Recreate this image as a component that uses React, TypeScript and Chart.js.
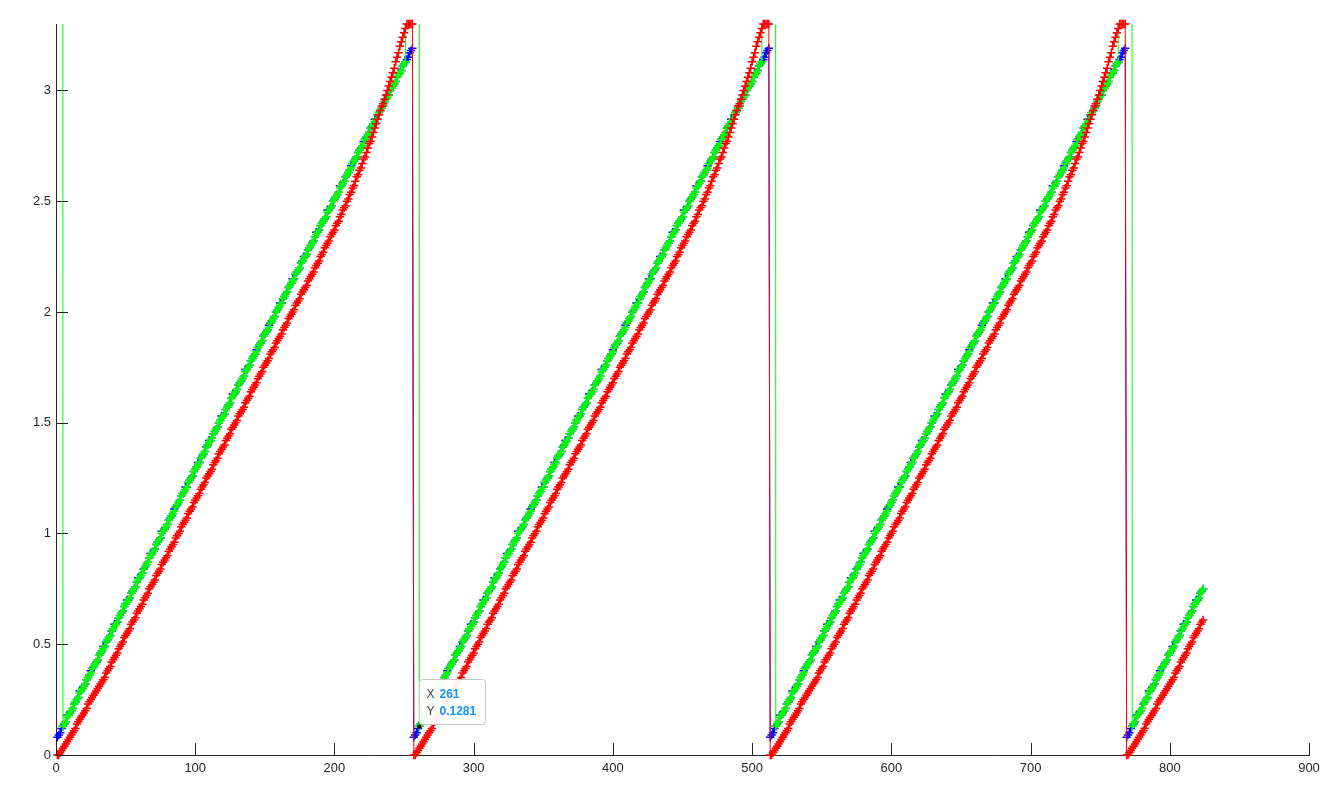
import React, { useEffect, useRef } from "react";
import { Chart, registerables } from "chart.js";

Chart.register(...registerables);

// sample index of the first value of every series
const firstSample = 1;
const xTickValues = [0, 100, 200, 300, 400, 500, 600, 700, 800, 900];
const yTickValues = [0, 0.5, 1, 1.5, 2, 2.5, 3];
const datatipX = 261;
const datatipY = 0.1281;

// all series values are in hundredths of the y unit (4000 = far above the axes)
const redCycle1 = [0,0,1,2,3,4,5,6,7,8,9,10,11,12,14,15,16,17,18,19,20,21,23,24,25,26,27,28,29,30,31,32,33,34,35,37,38,39,40,42,43,44,45,46,48,49,50,51,53,54,55,56,57,59,60,61,62,64,65,66,67,68,70,71,72,73,75,76,77,78,79,81,82,83,84,86,87,88,89,90,92,93,94,95,96,98,99,100,101,103,104,105,106,107,109,110,111,112,114,115,116,117,118,120,121,122,123,125,126,127,128,129,131,132,133,134,136,137,138,139,140,142,143,144,145,147,148,149,150,151,153,154,155,156,157,159,160,161,162,164,165,166,167,168,170,171,172,173,175,176,177,178,179,181,182,183,184,186,187,188,189,190,192,193,194,195,197,198,199,200,201,203,204,205,206,208,209,210,211,212,214,215,216,217,218,220,221,222,223,225,226,227,229,230,231,232,234,235,236,237,239,240,241,243,244,246,247,248,250,251,253,254,256,257,259,261,262,264,265,267,269,270,272,274,276,277,279,281,283,285,287,289,291,293,294,296,298,300,302,304,306,308,310,313,315,317,320,322,324,326,328,330,330,330,330,330];
const redCycle2 = [0,0,1,2,3,4,5,6,7,8,9,10,11,12,14,15,16,17,18,19,20,21,23,24,25,26,27,28,29,30,31,32,33,34,35,37,38,39,40,42,43,44,45,46,48,49,50,51,53,54,55,56,57,59,60,61,62,64,65,66,67,68,70,71,72,73,75,76,77,78,79,81,82,83,84,86,87,88,89,90,92,93,94,95,96,98,99,100,101,103,104,105,106,107,109,110,111,112,114,115,116,117,118,120,121,122,123,125,126,127,128,129,131,132,133,134,136,137,138,139,140,142,143,144,145,147,148,149,150,151,153,154,155,156,157,159,160,161,162,164,165,166,167,168,170,171,172,173,175,176,177,178,179,181,182,183,184,186,187,188,189,190,192,193,194,195,197,198,199,200,201,203,204,205,206,208,209,210,211,212,214,215,216,217,218,220,221,222,223,225,226,227,229,230,231,232,234,235,236,237,239,240,241,243,244,246,247,248,250,251,253,254,256,257,259,261,262,264,265,267,269,270,272,274,276,277,279,281,283,285,287,289,291,293,294,296,298,300,302,304,306,308,310,313,315,317,320,322,324,326,328,330,330,330,330,330];
const redCycle3 = [0,0,1,2,3,4,5,6,7,8,9,10,11,12,14,15,16,17,18,19,20,21,23,24,25,26,27,28,29,30,31,32,33,34,35,37,38,39,40,42,43,44,45,46,48,49,50,51,53,54,55,56,57,59,60,61,62,64,65,66,67,68,70,71,72,73,75,76,77,78,79,81,82,83,84,86,87,88,89,90,92,93,94,95,96,98,99,100,101,103,104,105,106,107,109,110,111,112,114,115,116,117,118,120,121,122,123,125,126,127,128,129,131,132,133,134,136,137,138,139,140,142,143,144,145,147,148,149,150,151,153,154,155,156,157,159,160,161,162,164,165,166,167,168,170,171,172,173,175,176,177,178,179,181,182,183,184,186,187,188,189,190,192,193,194,195,197,198,199,200,201,203,204,205,206,208,209,210,211,212,214,215,216,217,218,220,221,222,223,225,226,227,229,230,231,232,234,235,236,237,239,240,241,243,244,246,247,248,250,251,253,254,256,257,259,261,262,264,265,267,269,270,272,274,276,277,279,281,283,285,287,289,291,293,294,296,298,300,302,304,306,308,310,313,315,317,320,322,324,326,328,330,330,330,330,330];
const redCycle4 = [0,0,1,2,3,4,5,6,7,8,9,10,11,12,14,15,16,17,18,19,20,21,23,24,25,26,27,28,29,30,31,32,33,34,35,37,38,39,40,42,43,44,45,46,48,49,50,51,53,54,55,56,57,59,60,61];

const greenCycle1 = [4000,4000,4000,4000,13,14,15,17,18,19,20,21,23,24,25,26,28,29,30,31,32,34,35,36,37,39,40,41,42,43,45,46,47,48,49,51,52,53,54,56,57,58,59,60,62,63,64,65,67,68,69,70,71,73,74,75,76,78,79,80,81,82,84,85,86,87,89,90,91,92,93,95,96,97,98,100,101,102,103,104,106,107,108,109,110,112,113,114,115,117,118,119,120,121,123,124,125,126,128,129,130,131,132,134,135,136,137,139,140,141,142,143,145,146,147,148,150,151,152,153,154,156,157,158,159,161,162,163,164,165,167,168,169,170,171,173,174,175,176,178,179,180,181,182,184,185,186,187,189,190,191,192,193,195,196,197,198,200,201,202,203,204,206,207,208,209,211,212,213,214,215,217,218,219,220,222,223,224,225,226,228,229,230,231,232,234,235,236,237,239,240,241,242,243,245,246,247,248,250,251,252,253,254,256,257,258,259,261,262,263,264,265,267,268,269,270,272,273,274,275,276,278,279,280,281,283,284,285,286,287,289,290,291,292,293,295,296,297,298,300,301,302,303,304,306,307,308,309,311,312,313,4000,4000,4000,4000,4000];
const greenCycle2 = [4000,4000,4000,4000,13,14,15,17,18,19,20,21,23,24,25,26,28,29,30,31,32,34,35,36,37,39,40,41,42,43,45,46,47,48,49,51,52,53,54,56,57,58,59,60,62,63,64,65,67,68,69,70,71,73,74,75,76,78,79,80,81,82,84,85,86,87,89,90,91,92,93,95,96,97,98,100,101,102,103,104,106,107,108,109,110,112,113,114,115,117,118,119,120,121,123,124,125,126,128,129,130,131,132,134,135,136,137,139,140,141,142,143,145,146,147,148,150,151,152,153,154,156,157,158,159,161,162,163,164,165,167,168,169,170,171,173,174,175,176,178,179,180,181,182,184,185,186,187,189,190,191,192,193,195,196,197,198,200,201,202,203,204,206,207,208,209,211,212,213,214,215,217,218,219,220,222,223,224,225,226,228,229,230,231,232,234,235,236,237,239,240,241,242,243,245,246,247,248,250,251,252,253,254,256,257,258,259,261,262,263,264,265,267,268,269,270,272,273,274,275,276,278,279,280,281,283,284,285,286,287,289,290,291,292,293,295,296,297,298,300,301,302,303,304,306,307,308,309,311,312,313,4000,4000,4000,4000,4000];
const greenCycle3 = [4000,4000,4000,4000,13,14,15,17,18,19,20,21,23,24,25,26,28,29,30,31,32,34,35,36,37,39,40,41,42,43,45,46,47,48,49,51,52,53,54,56,57,58,59,60,62,63,64,65,67,68,69,70,71,73,74,75,76,78,79,80,81,82,84,85,86,87,89,90,91,92,93,95,96,97,98,100,101,102,103,104,106,107,108,109,110,112,113,114,115,117,118,119,120,121,123,124,125,126,128,129,130,131,132,134,135,136,137,139,140,141,142,143,145,146,147,148,150,151,152,153,154,156,157,158,159,161,162,163,164,165,167,168,169,170,171,173,174,175,176,178,179,180,181,182,184,185,186,187,189,190,191,192,193,195,196,197,198,200,201,202,203,204,206,207,208,209,211,212,213,214,215,217,218,219,220,222,223,224,225,226,228,229,230,231,232,234,235,236,237,239,240,241,242,243,245,246,247,248,250,251,252,253,254,256,257,258,259,261,262,263,264,265,267,268,269,270,272,273,274,275,276,278,279,280,281,283,284,285,286,287,289,290,291,292,293,295,296,297,298,300,301,302,303,304,306,307,308,309,311,312,313,4000,4000,4000,4000,4000];
const greenCycle4 = [4000,4000,4000,4000,13,14,15,17,18,19,20,21,23,24,25,26,28,29,30,31,32,34,35,36,37,39,40,41,42,43,45,46,47,48,49,51,52,53,54,56,57,58,59,60,62,63,64,65,67,68,69,70,71,73,74,75];

const blueCycle1 = [8,9,10,12,13,14,15,18,18,19,20,21,23,24,25,26,29,29,30,31,32,34,35,36,38,39,40,41,42,43,45,46,47,49,49,51,52,53,54,56,57,59,59,60,62,63,64,65,67,68,70,70,71,73,74,75,76,78,80,80,81,82,84,85,86,87,89,91,91,92,93,95,96,97,98,101,101,102,103,104,106,107,108,109,111,112,113,114,115,117,118,119,121,121,123,124,125,126,128,129,130,132,132,134,135,136,137,139,140,142,142,143,145,146,147,148,150,151,153,153,154,156,157,158,159,161,163,163,164,165,167,168,169,170,171,174,174,175,176,178,179,180,181,183,184,185,186,187,189,190,191,192,194,195,196,197,198,200,201,202,204,204,206,207,208,209,211,212,213,215,215,217,218,219,220,222,223,225,225,226,228,229,230,231,232,234,236,236,237,239,240,241,242,243,246,246,247,248,250,251,252,253,254,257,257,258,259,261,262,263,264,266,267,268,269,270,272,273,274,275,277,278,279,280,281,283,284,285,287,287,289,290,291,292,293,295,296,298,298,300,301,302,303,304,306,308,308,309,311,312,313,314,315,317,318,319];
const blueCycle2 = [8,9,10,12,13,14,15,18,18,19,20,21,23,24,25,26,29,29,30,31,32,34,35,36,38,39,40,41,42,43,45,46,47,49,49,51,52,53,54,56,57,59,59,60,62,63,64,65,67,68,70,70,71,73,74,75,76,78,80,80,81,82,84,85,86,87,89,91,91,92,93,95,96,97,98,101,101,102,103,104,106,107,108,109,111,112,113,114,115,117,118,119,121,121,123,124,125,126,128,129,130,132,132,134,135,136,137,139,140,142,142,143,145,146,147,148,150,151,153,153,154,156,157,158,159,161,163,163,164,165,167,168,169,170,171,174,174,175,176,178,179,180,181,183,184,185,186,187,189,190,191,192,194,195,196,197,198,200,201,202,204,204,206,207,208,209,211,212,213,215,215,217,218,219,220,222,223,225,225,226,228,229,230,231,232,234,236,236,237,239,240,241,242,243,246,246,247,248,250,251,252,253,254,257,257,258,259,261,262,263,264,266,267,268,269,270,272,273,274,275,277,278,279,280,281,283,284,285,287,287,289,290,291,292,293,295,296,298,298,300,301,302,303,304,306,308,308,309,311,312,313,314,315,317,318,319];
const blueCycle3 = [8,9,10,12,13,14,15,18,18,19,20,21,23,24,25,26,29,29,30,31,32,34,35,36,38,39,40,41,42,43,45,46,47,49,49,51,52,53,54,56,57,59,59,60,62,63,64,65,67,68,70,70,71,73,74,75,76,78,80,80,81,82,84,85,86,87,89,91,91,92,93,95,96,97,98,101,101,102,103,104,106,107,108,109,111,112,113,114,115,117,118,119,121,121,123,124,125,126,128,129,130,132,132,134,135,136,137,139,140,142,142,143,145,146,147,148,150,151,153,153,154,156,157,158,159,161,163,163,164,165,167,168,169,170,171,174,174,175,176,178,179,180,181,183,184,185,186,187,189,190,191,192,194,195,196,197,198,200,201,202,204,204,206,207,208,209,211,212,213,215,215,217,218,219,220,222,223,225,225,226,228,229,230,231,232,234,236,236,237,239,240,241,242,243,246,246,247,248,250,251,252,253,254,257,257,258,259,261,262,263,264,266,267,268,269,270,272,273,274,275,277,278,279,280,281,283,284,285,287,287,289,290,291,292,293,295,296,298,298,300,301,302,303,304,306,308,308,309,311,312,313,314,315,317,318,319];
const blueCycle4 = [8,9,10,12,13,14,15,18,18,19,20,21,23,24,25,26,29,29,30,31,32,34,35,36,38,39,40,41,42,43,45,46,47,49,49,51,52,53,54,56,57,59,59,60,62,63,64,65,67,68,70,70,71,73,74,75];

const redValues = [...redCycle1, ...redCycle2, ...redCycle3, ...redCycle4];
const greenValues = [...greenCycle1, ...greenCycle2, ...greenCycle3, ...greenCycle4];
const blueValues = [...blueCycle1, ...blueCycle2, ...blueCycle3, ...blueCycle4];

const AXIS_COLOR = "#262626";
const FONT = "'Liberation Sans', Arial, Helvetica, sans-serif";

function toPoints(values: number[]) {
  return values.map((v, i) => ({ x: firstSample + i, y: v / 100 }));
}

const inwardTicks = {
  id: "inwardTicks",
  afterDatasetsDraw(chart: any) {
    const { ctx, chartArea, scales } = chart;
    ctx.save();
    ctx.strokeStyle = AXIS_COLOR;
    ctx.lineWidth = 1;
    ctx.beginPath();
    for (const t of xTickValues) {
      const px = Math.round(scales.x.getPixelForValue(t)) + 0.5;
      ctx.moveTo(px, chartArea.bottom);
      ctx.lineTo(px, chartArea.bottom - 12);
    }
    for (const t of yTickValues) {
      const py = Math.round(scales.y.getPixelForValue(t)) + 0.5;
      ctx.moveTo(chartArea.left, py);
      ctx.lineTo(chartArea.left + 12, py);
    }
    ctx.stroke();
    ctx.restore();
  },
};

const datatip = {
  id: "datatip",
  afterDatasetsDraw(chart: any) {
    const { ctx, scales } = chart;
    const px = scales.x.getPixelForValue(datatipX);
    const py = scales.y.getPixelForValue(datatipY);
    const bx = Math.round(px) + 0.5;
    const bw = 66;
    const bh = 45;
    const by = Math.round(py - 3 - bh) + 0.5;
    ctx.save();
    ctx.beginPath();
    const r = 3;
    ctx.moveTo(bx + r, by);
    ctx.lineTo(bx + bw - r, by);
    ctx.quadraticCurveTo(bx + bw, by, bx + bw, by + r);
    ctx.lineTo(bx + bw, by + bh - r);
    ctx.quadraticCurveTo(bx + bw, by + bh, bx + bw - r, by + bh);
    ctx.lineTo(bx + r, by + bh);
    ctx.quadraticCurveTo(bx, by + bh, bx, by + bh - r);
    ctx.lineTo(bx, by + r);
    ctx.quadraticCurveTo(bx, by, bx + r, by);
    ctx.closePath();
    ctx.fillStyle = "rgba(255,255,255,0.95)";
    ctx.fill();
    ctx.strokeStyle = "#c4c4c4";
    ctx.lineWidth = 1;
    ctx.stroke();

    ctx.textBaseline = "middle";
    ctx.textAlign = "left";
    ctx.font = `12px ${FONT}`;
    ctx.fillStyle = "#404040";
    ctx.fillText("X", bx + 7, by + 15);
    ctx.fillText("Y", bx + 7, by + 32);
    ctx.font = `bold 12px ${FONT}`;
    ctx.fillStyle = "#1a94f5";
    ctx.fillText(String(datatipX), bx + 20, by + 15);
    ctx.fillText(String(datatipY), bx + 20, by + 32);

    ctx.beginPath();
    ctx.arc(px, py, 2.2, 0, Math.PI * 2);
    ctx.fillStyle = "#111111";
    ctx.fill();
    ctx.restore();
  },
};

export default function App() {
  const canvasRef = useRef<HTMLCanvasElement | null>(null);

  useEffect(() => {
    const canvas = canvasRef.current;
    if (!canvas) return;
    const common = {
      borderWidth: 1,
      pointStyle: "cross",
      pointRadius: 4.2,
      pointHoverRadius: 4.2,
      pointBorderWidth: 1.5,
      tension: 0,
    };
    const chart = new Chart(canvas, {
      type: "line",
      data: {
        datasets: [
          {
            ...common,
            label: "red",
            data: toPoints(redValues),
            borderColor: "#ff0000",
            backgroundColor: "#ff0000",
            pointBorderColor: "#ff0000",
            clip: false,
          },
          {
            ...common,
            label: "green",
            data: toPoints(greenValues),
            borderColor: "#00ff00",
            backgroundColor: "#00ff00",
            pointBorderColor: "#00ff00",
            clip: 0,
          },
          {
            ...common,
            label: "blue",
            data: toPoints(blueValues),
            borderColor: "#0000ff",
            backgroundColor: "#0000ff",
            pointBorderColor: "#0000ff",
            clip: false,
          },
        ] as any,
      },
      options: {
        animation: false,
        responsive: false,
        devicePixelRatio: 1,
        events: [],
        layout: { padding: { top: 24, right: 17, left: 0, bottom: 0 } },
        plugins: {
          legend: { display: false },
          tooltip: { enabled: false },
        },
        scales: {
          x: {
            type: "linear",
            min: 0,
            max: 900,
            grid: { display: false, drawTicks: false },
            border: { display: true, color: AXIS_COLOR, width: 1 },
            ticks: {
              stepSize: 100,
              includeBounds: false,
              autoSkip: false,
              maxRotation: 0,
              padding: 6,
              color: AXIS_COLOR,
              font: { family: FONT, size: 13 },
              callback: (v: any) => String(v),
            },
            afterFit: (s: any) => {
              s.height = 37;
            },
          },
          y: {
            type: "linear",
            min: 0,
            max: 3.3,
            grid: { display: false, drawTicks: false },
            border: { display: true, color: AXIS_COLOR, width: 1 },
            ticks: {
              stepSize: 0.5,
              includeBounds: false,
              autoSkip: false,
              padding: 5,
              color: AXIS_COLOR,
              font: { family: FONT, size: 13 },
              callback: (v: any) => String(Math.round(Number(v) * 10) / 10),
            },
            afterFit: (s: any) => {
              s.width = 56;
            },
          },
        },
      } as any,
      plugins: [inwardTicks, datatip],
    });
    return () => chart.destroy();
  }, []);

  return (
    <div
      style={{
        position: "fixed",
        left: 0,
        top: 0,
        width: 1326,
        height: 792,
        background: "#ffffff",
      }}
    >
      <canvas ref={canvasRef} width={1326} height={792} style={{ width: 1326, height: 792, display: "block" }} />
    </div>
  );
}
